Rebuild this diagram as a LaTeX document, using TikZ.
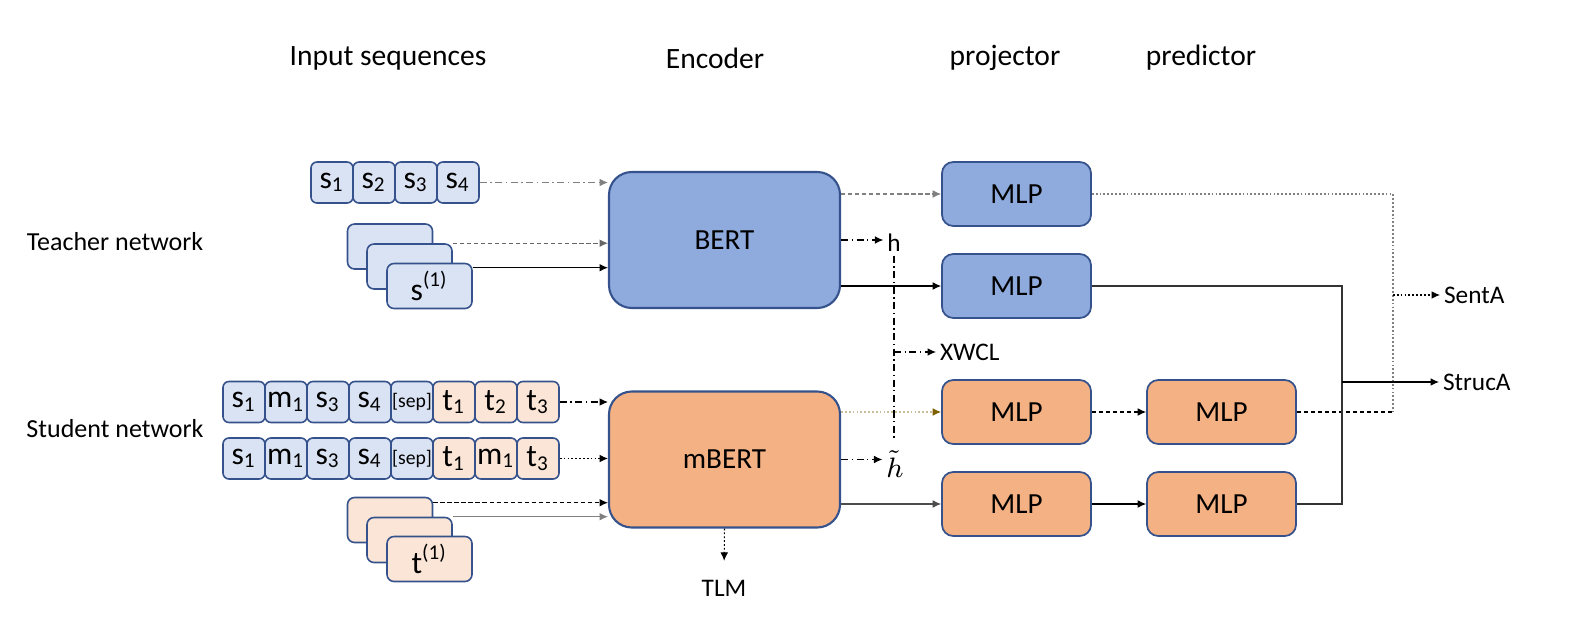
\documentclass[tikz,border=0pt]{standalone}
\usepackage{fontspec}
\setmainfont{Carlito}
\usetikzlibrary{positioning,arrows.meta}
\definecolor{encblue}{HTML}{8FAADC}
\definecolor{tokblue}{HTML}{DAE3F3}
\definecolor{encorange}{HTML}{F4B183}
\definecolor{tokorange}{HTML}{FBE5D6}
\definecolor{edgeblue}{HTML}{35528C}
\definecolor{khaki}{HTML}{C9BD9A}
\definecolor{tipolive}{HTML}{7F6000}
\tikzset{tokb/.style={draw=edgeblue,fill=tokblue,line width=0.45pt,rounded corners=1.7pt,minimum width=0.42cm,minimum height=0.41cm,inner sep=0pt,font=\fontsize{9}{10}\selectfont},
	pageb/.style={tokb,rounded corners=2pt,minimum width=0.85cm,minimum height=0.45cm},
	pageo/.style={pageb,fill=tokorange},
	encb/.style={draw=edgeblue,fill=encblue,line width=0.6pt,rounded corners=6.5pt,minimum width=2.31cm,minimum height=1.36cm,font=\fontsize{8.3}{10}\selectfont},
	enco/.style={encb,fill=encorange},
	mlpb/.style={draw=edgeblue,fill=encblue,line width=0.5pt,rounded corners=3.2pt,minimum width=1.49cm,minimum height=0.64cm,font=\fontsize{8.3}{10}\selectfont},
	mlpo/.style={mlpb,fill=encorange},
	head/.style={font=\fontsize{8.4}{10}\selectfont},
	side/.style={font=\fontsize{7.4}{9}\selectfont},
	lab/.style={font=\fontsize{7.2}{8}\selectfont,inner sep=1pt},
	arr/.style={-{Latex[length=2.4pt,width=2.2pt]}},
	dd/.style={dash pattern=on 2pt off 1pt on 0.4pt off 1pt},
	ds/.style={dash pattern=on 1.2pt off 0.8pt},
	dt/.style={dash pattern=on 0.5pt off 0.6pt},}
\newcommand{\sepTok}{\fontsize{5.6}{6}\selectfont[sep]}

\begin{document}
\begin{tikzpicture}[line width=0.3pt]
	\useasboundingbox (0,0) rectangle (15.81,-6.38);
	% column titles
	\node[head] (hIn) at (3.88,-0.58) {Input sequences};
	\node[head] (hEnc) at (7.15,-0.58) {Encoder};
	\node[head] (hProj) at (10.05,-0.58) {projector};
	\node[head] (hPred) at (12.01,-0.58) {predictor};
	\node[side] (teach) at (1.15,-2.42) {Teacher network};
	\node[side] (stud) at (1.15,-4.29) {Student network};
	% teacher inputs
	\foreach \lab [count=\i] in {s\textsubscript{1},s\textsubscript{2},s\textsubscript{3},s\textsubscript{4}}
		\node[tokb] (ts\i) at ({3.32+0.42*(\i-1)},-1.825) {\lab};
	\node[pageb] (tp1) at (3.90,-2.465) {};
	\node[pageb] (tp2) at (4.095,-2.665) {};
	\node[pageb] (tp3) at (4.295,-2.86) {s\textsuperscript{(1)}};
	% student inputs
	\foreach \lab/\fc [count=\i] in {s\textsubscript{1}/tokblue,m\textsubscript{1}/tokblue,s\textsubscript{3}/tokblue,s\textsubscript{4}/tokblue,\sepTok/tokblue,t\textsubscript{1}/tokorange,t\textsubscript{2}/tokorange,t\textsubscript{3}/tokorange}
		\node[tokb,fill=\fc] (sa\i) at ({2.44+0.42*(\i-1)},-4.02) {\lab};
	\foreach \lab/\fc [count=\i] in {s\textsubscript{1}/tokblue,m\textsubscript{1}/tokblue,s\textsubscript{3}/tokblue,s\textsubscript{4}/tokblue,\sepTok/tokblue,t\textsubscript{1}/tokorange,m\textsubscript{1}/tokorange,t\textsubscript{3}/tokorange}
		\node[tokb,fill=\fc] (sb\i) at ({2.44+0.42*(\i-1)},-4.585) {\lab};
	\node[pageo] (sp1) at (3.90,-5.20) {};
	\node[pageo] (sp2) at (4.095,-5.40) {};
	\node[pageo] (sp3) at (4.295,-5.59) {t\textsuperscript{(1)}};
	% encoders
	\node[encb] (bert) at (7.245,-2.40) {BERT};
	\node[enco] (mbert) at (7.245,-4.595) {mBERT};
	% projector and predictor
	\node[mlpb] (pj1) at (10.165,-1.94) {MLP};
	\node[mlpb] (pj2) at (10.165,-2.86) {MLP};
	\node[mlpo] (pj3) at (10.165,-4.12) {MLP};
	\node[mlpo] (pj4) at (10.165,-5.04) {MLP};
	\node[mlpo] (pd3) at (12.215,-4.12) {MLP};
	\node[mlpo] (pd4) at (12.215,-5.04) {MLP};
	% outputs
	\node[lab] (h) at (8.94,-2.43) {h};
	\node[lab,font=\fontsize{8.5}{9}\selectfont] (ht) at (8.95,-4.64) {$\tilde{h}$};
	\node[lab,anchor=west] (xwcl) at (9.36,-3.52) {XWCL};
	\node[lab] (tlm) at (7.24,-5.88) {TLM};
	\node[lab,anchor=west] (senta) at (14.40,-2.95) {SentA};
	\node[lab,anchor=west] (struca) at (14.39,-3.82) {StrucA};
	\coordinate (sentJ) at (13.93,-2.95);
	\coordinate (strucJ) at (13.42,-3.82);
	\coordinate (tp3o) at ([yshift=-0.05cm]tp3.north east);
	\coordinate (sp1o) at ([yshift=-0.06cm]sp1.north east);
	% inputs to encoders
	\draw[arr,dd,gray] (ts4.east) -- (ts4.east -| bert.west);
	\draw[arr,ds,black!60] (tp2.north east) -- (tp2.north east -| bert.west);
	\draw[arr] (tp3o) -- (tp3o -| bert.west);
	\draw[arr,dd] (sa8.east) -- (sa8.east -| mbert.west);
	\draw[arr,dt] (sb8.east) -- (sb8.east -| mbert.west);
	\draw[arr,ds] (sp1o) -- (sp1o -| mbert.west);
	\draw[arr,gray] (sp2.north east) -- (sp2.north east -| mbert.west);
	% encoders to heads
	\draw[arr,ds,gray] (pj1.west -| bert.east) -- (pj1.west);
	\draw[arr,dd] (bert.east) -- (bert.east -| h.west);
	\draw[arr] (pj2.west -| bert.east) -- (pj2.west);
	\draw[dd,shorten >=0.06cm] (h.south) -- (h.south |- ht.north);
	\draw[arr,dd] (h.south |- xwcl.west) -- (xwcl.west);
	\draw[dt,khaki,-{Latex[length=2.4pt,width=2.2pt,color=tipolive]}] (pj3.west -| mbert.east) -- (pj3.west);
	\draw[arr,dd] (mbert.east) -- (mbert.east -| ht.west);
	\draw[arr,black!70] (pj4.west -| mbert.east) -- (pj4.west);
	\draw[arr,dt,shorten >=0.15cm] (mbert.south) -- (tlm.north);
	\draw[arr,ds] (pj3) -- (pd3);
	\draw[arr] (pj4) -- (pd4);
	% losses
	\draw[dt,gray] (pj1.east) -| (sentJ) -- (sentJ |- pd3.east);
	\draw[ds] (pd3.east) -- (pd3.east -| sentJ);
	\draw[arr,dt] (sentJ) -- (senta.west);
	\draw[black!80] (pj2.east) -| (strucJ) |- (pd4.east);
	\draw[arr] (strucJ) -- (struca.west);
\end{tikzpicture}
\end{document}
